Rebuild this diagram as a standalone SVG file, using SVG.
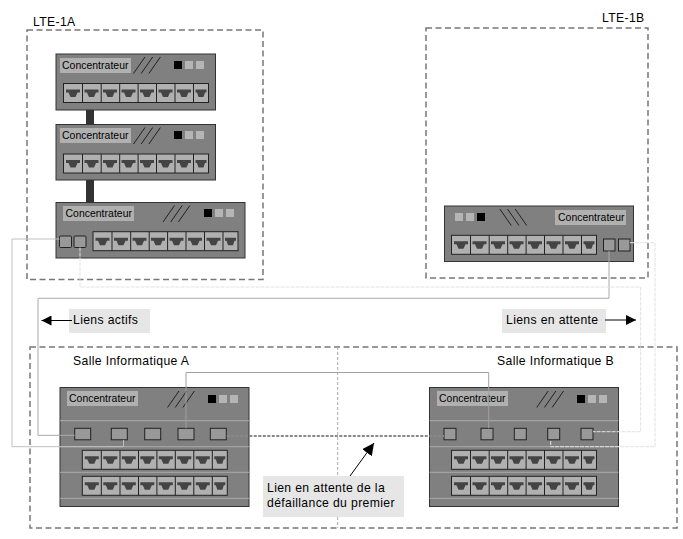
<svg xmlns="http://www.w3.org/2000/svg" width="683" height="539" viewBox="0 0 683 539">
<style>
text{font-family:"Liberation Sans",Arial,sans-serif;fill:#000}
.t{font-size:12.2px;letter-spacing:.36px}
.c{font-size:10.4px;letter-spacing:.05px}
.hub{fill:#808080;stroke:#333;stroke-width:1}
.lb{fill:#b0b0b0}
.note{fill:#e6e6e6}
.zone{fill:none;stroke:#777;stroke-width:1.5;stroke-dasharray:6 3.5}
.sq{fill:#999;stroke:#222;stroke-width:1}
.band{stroke:#aaa;stroke-width:1;fill:none}
.cn{fill:none;stroke-width:1}
.led{fill:#b5b5b5}
</style>
<defs>
<g id="cell">
<path d="M2.500 6H16.500V9H14L12 13.500H7L5 9H2.500Z" fill="#444"/>
</g>
<g id="strip">
<rect x="0" y="0" width="145" height="19" fill="#b0b0b0" stroke="#222"/>
<path d="M19 0V19M37.700 0V19M56.200 0V19M74.600 0V19M93 0V19M111.500 0V19M130 0V19" stroke="#222" fill="none"/>
<use href="#cell" x="0"/><use href="#cell" x="18.500"/><use href="#cell" x="37"/><use href="#cell" x="55.500"/><use href="#cell" x="74"/><use href="#cell" x="92.500"/><use href="#cell" x="111"/>
<path d="M132 6H143V9H141.500L140 13.500H135L133.500 9H132Z" fill="#444"/>
</g>
<g id="slashes" stroke="#222" fill="none" stroke-width="1">
<path d="M0 16.500L11.500 0M7.700 16.500L19.200 0M15.400 16.500L26.900 0"/>
</g>
<g id="leds">
<rect x="0" y="0" width="8" height="8" fill="#000"/>
<rect x="11" y="0" width="8" height="8" class="led"/>
<rect x="22" y="0" width="8" height="8" class="led"/>
</g>
<marker id="ah" viewBox="0 0 10 10" refX="10" refY="5" markerWidth="10.500" markerHeight="10" markerUnits="userSpaceOnUse" orient="auto"><path d="M0 0L10 5L0 10Z" fill="#000"/></marker>
<marker id="ah2" viewBox="0 0 10 10" refX="10" refY="5" markerWidth="12" markerHeight="12" markerUnits="userSpaceOnUse" orient="auto"><path d="M0 0L10 5L0 10Z" fill="#000"/></marker>
</defs>
<rect width="683" height="539" fill="#fff"/>

<g id="zones">
<rect id="zone-lte1a" class="zone" x="27" y="30" width="236" height="249.500"/>
<rect id="zone-lte1b" class="zone" x="426" y="28" width="222" height="250"/>
<rect id="zone-salles" class="zone" x="30" y="347" width="647" height="181"/>
<path id="zone-divider" d="M337.700 347V528" stroke="#aaa" stroke-width="1" stroke-dasharray="3 2" fill="none"/>
<text class="t" x="33" y="26">LTE-1A</text>
<text class="t" x="602" y="22">LTE-1B</text>
<text class="t" x="73" y="365">Salle Informatique A</text>
<text class="t" x="497" y="365">Salle Informatique B</text>
</g>

<g id="stack-links">
<rect x="86" y="110" width="8" height="14.500" fill="#333"/>
<rect x="86" y="180" width="8" height="22" fill="#333"/>
</g>

<g id="hub-1">
<rect class="hub" x="56" y="54" width="159.500" height="56"/>
<rect class="lb" x="60" y="58" width="71" height="15"/>
<text class="c" x="62" y="69">Concentrateur</text>
<use href="#slashes" x="133.500" y="57"/>
<use href="#leds" x="174" y="61"/>
<use href="#strip" x="63.500" y="83.500"/>
</g>
<g id="hub-2">
<rect class="hub" x="56" y="124.500" width="159.500" height="55.500"/>
<rect class="lb" x="60" y="128" width="71" height="15"/>
<text class="c" x="62" y="139">Concentrateur</text>
<use href="#slashes" x="133.500" y="127.500"/>
<use href="#leds" x="174" y="131"/>
<use href="#strip" x="63.500" y="154"/>
</g>
<g id="hub-3">
<rect class="hub" x="56" y="202.500" width="189" height="55.500"/>
<rect class="lb" x="63" y="206" width="71" height="15"/>
<text class="c" x="65.500" y="217">Concentrateur</text>
<use href="#slashes" x="163" y="205.500"/>
<use href="#leds" x="204" y="209"/>
<rect class="sq" x="59.500" y="236" width="12" height="11.500" rx="1"/>
<rect class="sq" x="74" y="236" width="12" height="11.500" rx="1"/>
<use href="#strip" x="93" y="231.700"/>
</g>
<g id="hub-4">
<rect class="hub" x="444.500" y="206" width="189" height="55.500"/>
<use href="#leds" transform="translate(485 213) scale(-1 1)"/>
<use href="#slashes" transform="translate(526.700 209) scale(-1 1)"/>
<rect class="lb" x="555" y="210" width="71" height="15"/>
<text class="c" x="558" y="221">Concentrateur</text>
<use href="#strip" x="451.500" y="235.300"/>
<rect class="sq" x="603.500" y="239" width="11.500" height="12"/>
<rect class="sq" x="618.500" y="239" width="11.500" height="12"/>
</g>
<g id="hub-5">
<rect class="hub" x="60" y="387.500" width="189" height="119"/>
<rect class="lb" x="67" y="391" width="71" height="15"/>
<text class="c" x="69" y="402">Concentrateur</text>
<use href="#slashes" x="167.500" y="391"/>
<use href="#leds" x="208" y="395"/>
<path class="band" d="M60 420.700H249M60 446.700H249M60 472.300H249M60 498.300H249"/>
<rect class="sq" x="74.700" y="428.300" width="16" height="11.500"/>
<rect class="sq" x="111.300" y="428.300" width="16" height="11.500"/>
<rect class="sq" x="144.700" y="428.300" width="16" height="11.500"/>
<rect class="sq" x="178" y="428.300" width="16" height="11.500"/>
<rect class="sq" x="210.300" y="428.300" width="16" height="11.500"/>
<use href="#strip" x="82.300" y="450.300"/>
<use href="#strip" x="82.300" y="476.300"/>
</g>
<g id="hub-6">
<rect class="hub" x="429.500" y="387.500" width="189" height="119"/>
<rect class="lb" x="437" y="391" width="71" height="15"/>
<text class="c" x="439" y="402">Concentrateur</text>
<use href="#slashes" x="536.700" y="391"/>
<use href="#leds" x="577" y="395"/>
<path class="band" d="M429.500 420.700H618.500M429.500 446.700H618.500M429.500 472.300H618.500M429.500 498.300H618.500"/>
<rect class="sq" x="444" y="428.300" width="12" height="11.500"/>
<rect class="sq" x="481" y="428.300" width="12" height="11.500"/>
<rect class="sq" x="514.300" y="428.300" width="12" height="11.500"/>
<rect class="sq" x="547.700" y="428.300" width="12" height="11.500"/>
<rect class="sq" x="581" y="428.300" width="12" height="11.500"/>
<use href="#strip" x="451.500" y="450.300"/>
<use href="#strip" x="451.500" y="476.300"/>
</g>

<g id="connectors">
<path class="cn" stroke="#c0c0c0" d="M59.500 239H12V446.700H123.500V440"/>
<path class="cn" stroke="#aaa" d="M609 251V298.300H38V435.300H74.700"/>
<path class="cn" stroke="#e2e2e2" stroke-dasharray="4 1" d="M80 247.500V287H640.700V431.700H593"/>
<path class="cn" stroke="#e2e2e2" stroke-dasharray="4 1" d="M630 242.700H655V446.700H550.700V440"/>
<path class="cn" stroke="#a0a0a0" d="M186 428.300V372.500H488.700V428.300"/>
<path class="cn" stroke="#888" style="stroke-width:2px" stroke-dasharray="3 1.500" d="M226.800 436H444"/>
</g>

<g id="note-actifs">
<rect class="note" x="69" y="309" width="81" height="24"/>
<text class="t" x="73" y="324">Liens actifs</text>
<path d="M72 320.500H41.500" stroke="#000" fill="none" marker-end="url(#ah)"/>
</g>
<g id="note-attente">
<rect class="note" x="502" y="309" width="104" height="24"/>
<text class="t" x="506" y="324">Liens en attente</text>
<path d="M605 320H636" stroke="#000" fill="none" marker-end="url(#ah)"/>
</g>
<g id="note-defaillance">
<rect class="note" x="263" y="476" width="141" height="41"/>
<text class="t" x="267" y="492">Lien en attente de la</text>
<text class="t" x="267" y="507">défaillance du premier</text>
<path d="M350 476L374 443" stroke="#000" fill="none" marker-end="url(#ah2)"/>
</g>
</svg>
